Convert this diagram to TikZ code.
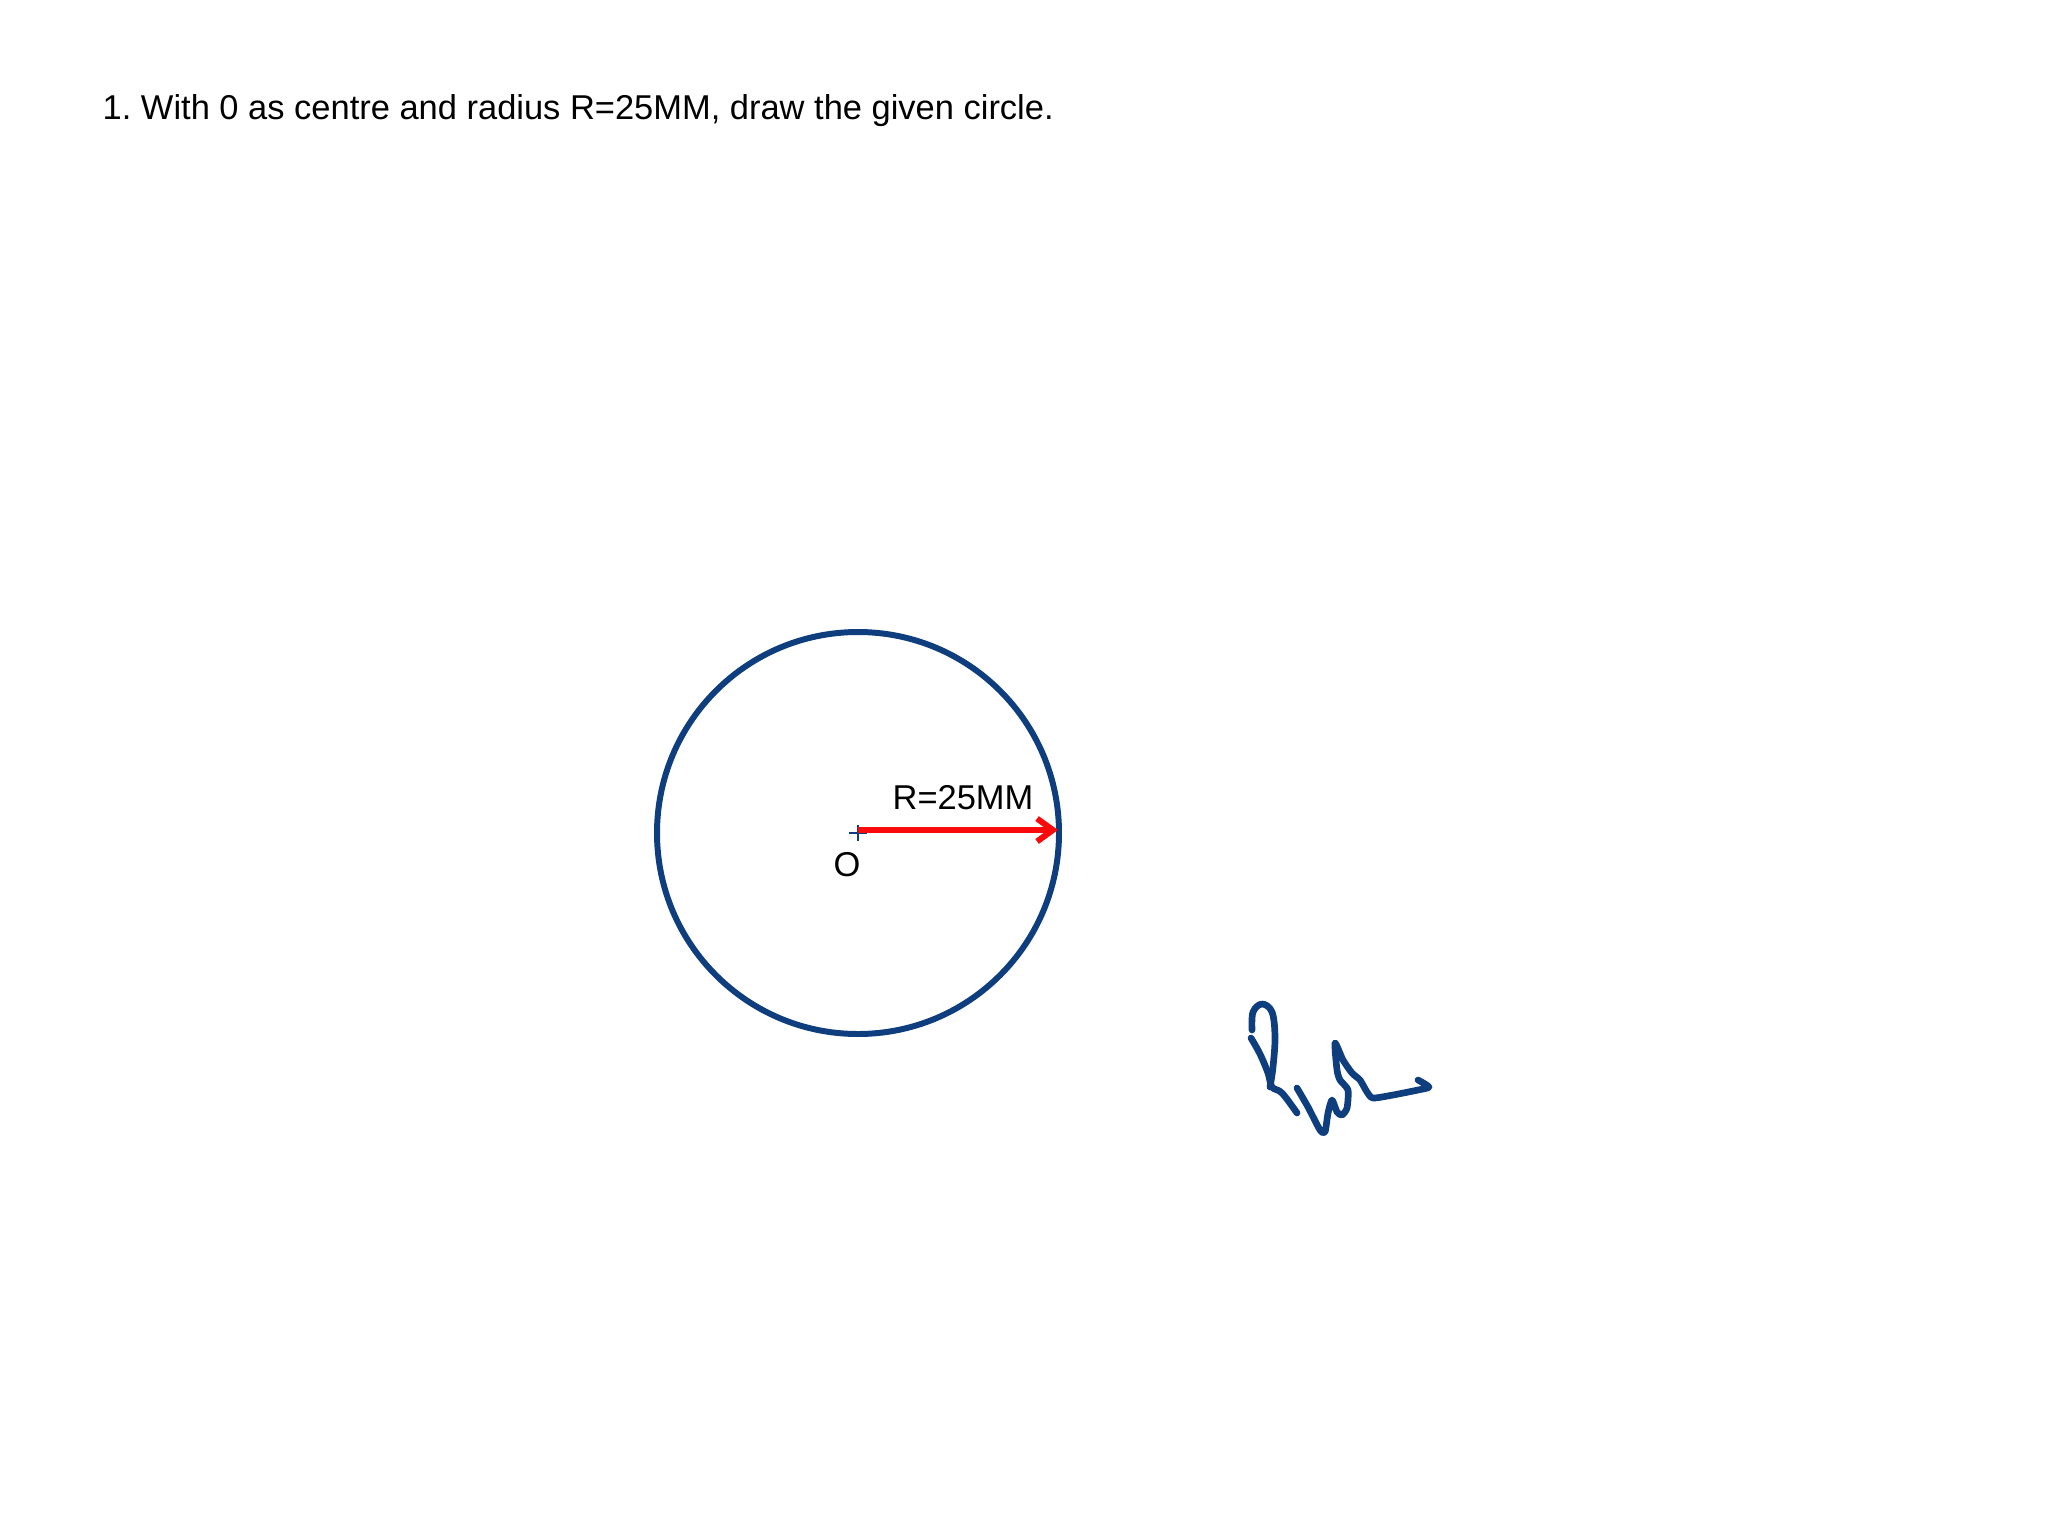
\documentclass[tikz,border=0pt]{standalone}
\usepackage{fontspec}
\setmainfont{Liberation Sans}
\usetikzlibrary{arrows.meta,calc}
\definecolor{penblue}{RGB}{14,62,125}
\definecolor{radred}{RGB}{250,10,10}

\begin{document}
\frenchspacing
\begin{tikzpicture}[x=0.01cm,y=-0.01cm,
    txt/.style={inner sep=0pt,font=\fontsize{9.8pt}{12pt}\selectfont},
    ink/.style={line width=1.9pt,penblue,line cap=round,line join=round}]
    \useasboundingbox (0,0) rectangle (2048,1536);
    % question text
    \node [txt,anchor=west] (question) at (102,111) {1. With 0 as centre and radius R=25MM, draw the given circle.};
    % circle
    \coordinate (O) at (858,833);
    \coordinate (Rend) at (1058,830);
    \draw [line width=1.7pt,penblue] (O) circle (201);
    % centre mark
    \draw [line width=0.3pt,penblue] ($(O)+(-9,0)$) -- ($(O)+(9,0)$) ($(O)+(0,-8)$) -- ($(O)+(0,8)$);
    \node [txt] (Olabel) at (847,865) {O};
    % radius arrow
    \draw [line width=1.7pt,radred,-{Straight Barb[length=4.5pt,width=6.5pt]}] (O |- Rend) -- (Rend);
    \node [txt] (Rlabel) at (963,798) {R=25MM};
    % signature
    \draw [ink] plot [smooth,tension=0.6] coordinates {(1252,1030) (1253,1012) (1262,1004) (1272,1012) (1275,1037) (1273,1067) (1270,1087)};
    \draw [ink] plot [smooth,tension=0.6] coordinates {(1251,1038) (1260,1054) (1268,1073) (1272,1087) (1282,1093) (1297,1113)};
    \draw [ink] plot [smooth,tension=0.4] coordinates {(1297,1088) (1308,1107) (1320,1130) (1325,1132) (1328,1113) (1332,1100) (1337,1112) (1342,1115) (1347,1108) (1348,1090) (1340,1080) (1337,1070) (1335,1043) (1343,1060) (1352,1073) (1360,1080) (1367,1092) (1373,1098) (1393,1095) (1418,1090) (1429,1087) (1418,1080)};
\end{tikzpicture}
\end{document}
